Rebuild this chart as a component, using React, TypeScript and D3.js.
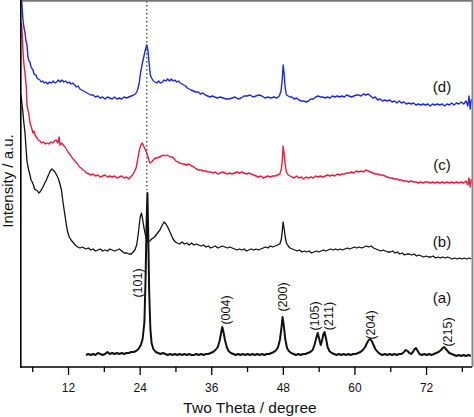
import React, { useRef, useEffect } from "react"
import * as d3 from "d3"

type Pt = [number, number]

// 2θ (degree), intensity (a.u.) — patterns already offset for stacking
const scanA: Pt[] = [
  [15.0, 12], [15.4, 13], [15.8, 12], [16.2, 13], [16.6, 12], [17.0, 14], [17.4, 13], [17.8, 12],
  [18.2, 13], [18.6, 15], [19.0, 13], [19.4, 14], [19.8, 13], [20.2, 14], [20.6, 13], [21.0, 14],
  [21.4, 13], [21.8, 14], [22.2, 14], [22.6, 15], [23.0, 15], [23.4, 16], [23.8, 18], [24.2, 22],
  [24.5, 28], [24.8, 45], [25.0, 90], [25.15, 140], [25.3, 174], [25.45, 130], [25.6, 75], [25.8, 38],
  [26.0, 24], [26.3, 18], [26.7, 15], [27.1, 14], [27.5, 13], [27.9, 14], [28.3, 13], [28.7, 12],
  [29.1, 13], [29.5, 12], [29.9, 13], [30.3, 12], [30.7, 13], [31.1, 12], [31.5, 13], [31.9, 12],
  [32.3, 13], [32.7, 12], [33.1, 12], [33.5, 13], [33.9, 12], [34.3, 13], [34.7, 12], [35.1, 13],
  [35.5, 13], [35.9, 14], [36.3, 15], [36.7, 17], [37.1, 20], [37.4, 26], [37.65, 34], [37.85, 40],
  [38.05, 35], [38.3, 27], [38.6, 20], [38.9, 16], [39.3, 14], [39.7, 13], [40.1, 12], [40.5, 13],
  [40.9, 12], [41.3, 13], [41.7, 12], [42.1, 13], [42.5, 12], [42.9, 13], [43.3, 12], [43.7, 13],
  [44.1, 12], [44.5, 13], [44.9, 12], [45.3, 13], [45.7, 13], [46.1, 14], [46.5, 15], [46.9, 17],
  [47.2, 20], [47.5, 27], [47.75, 38], [47.95, 50], [48.15, 42], [48.4, 28], [48.7, 19], [49.0, 16],
  [49.4, 14], [49.8, 13], [50.2, 12], [50.6, 13], [51.0, 12], [51.4, 13], [51.8, 13], [52.2, 14],
  [52.6, 15], [53.0, 17], [53.3, 22], [53.6, 29], [53.85, 34], [54.1, 28], [54.35, 22], [54.55, 26],
  [54.8, 33], [55.0, 35], [55.25, 28], [55.5, 20], [55.8, 16], [56.2, 14], [56.6, 13], [57.0, 12],
  [57.4, 13], [57.8, 12], [58.2, 13], [58.6, 12], [59.0, 13], [59.4, 12], [59.8, 13], [60.2, 13],
  [60.6, 14], [61.0, 15], [61.4, 17], [61.8, 20], [62.1, 24], [62.4, 27], [62.65, 28], [62.9, 26],
  [63.2, 22], [63.5, 18], [63.9, 15], [64.3, 13], [64.7, 12], [65.1, 13], [65.5, 12], [65.9, 13],
  [66.3, 12], [66.7, 13], [67.1, 12], [67.5, 13], [67.9, 13], [68.3, 15], [68.6, 17], [68.9, 16],
  [69.2, 14], [69.5, 13], [69.8, 15], [70.1, 18], [70.3, 19], [70.6, 16], [70.9, 13], [71.3, 12],
  [71.7, 13], [72.1, 12], [72.5, 13], [72.9, 12], [73.3, 13], [73.7, 14], [74.1, 15], [74.5, 17],
  [74.8, 19], [75.05, 20], [75.3, 18], [75.6, 16], [75.9, 14], [76.3, 13], [76.7, 12], [77.1, 11],
  [77.5, 12], [77.9, 11], [78.3, 12], [78.7, 11], [79.1, 12], [79.5, 11],
]

const scanB: Pt[] = [
  [4.12, 272], [4.3, 262], [4.45, 254], [4.6, 244], [4.79, 234], [4.95, 220], [5.12, 206], [5.29, 200],
  [5.45, 196], [5.63, 192], [5.8, 187], [6.0, 185], [6.2, 182], [6.4, 178], [6.63, 177], [6.9, 176],
  [7.1, 174], [7.3, 175], [7.5, 177], [7.8, 180], [8.1, 184], [8.3, 186], [8.5, 189], [8.8, 193],
  [9.0, 196], [9.3, 198], [9.5, 197], [9.8, 195], [10.1, 192], [10.4, 188], [10.65, 183], [10.9, 177],
  [11.15, 165], [11.4, 155], [11.7, 143], [11.9, 136], [12.2, 130], [12.5, 127], [12.8, 125], [13.2, 122],
  [13.6, 120], [14.0, 119], [14.4, 120], [14.7, 119], [15.0, 118], [15.4, 119], [15.8, 117], [16.2, 118],
  [16.6, 116], [17.0, 117], [17.4, 118], [17.8, 116], [18.2, 117], [18.6, 116], [19.0, 118], [19.4, 117],
  [19.8, 116], [20.2, 117], [20.6, 118], [21.0, 116], [21.4, 114], [21.8, 114], [22.2, 113], [22.6, 113],
  [22.9, 115], [23.2, 117], [23.5, 122], [23.7, 130], [23.9, 140], [24.1, 150], [24.3, 154], [24.5, 148],
  [24.7, 140], [24.9, 134], [25.2, 127], [25.4, 125], [25.7, 126], [26.0, 128], [26.5, 130], [27.0, 134],
  [27.4, 137], [27.8, 142], [28.1, 145], [28.4, 143], [28.7, 140], [29.0, 136], [29.3, 132], [29.6, 128],
  [30.0, 125], [30.3, 124], [30.7, 123], [31.1, 125], [31.5, 123], [31.9, 124], [32.3, 122], [32.7, 124],
  [33.1, 122], [33.5, 123], [33.9, 122], [34.3, 121], [34.7, 122], [35.1, 120], [35.5, 121], [35.9, 119],
  [36.3, 120], [36.7, 121], [37.1, 119], [37.5, 120], [37.9, 121], [38.3, 120], [38.7, 119], [39.1, 120],
  [39.5, 119], [39.9, 118], [40.3, 117], [40.7, 118], [41.1, 117], [41.5, 118], [41.9, 116], [42.3, 117],
  [42.7, 118], [43.1, 117], [43.5, 118], [43.9, 117], [44.3, 118], [44.7, 119], [45.1, 120], [45.5, 119],
  [45.9, 121], [46.3, 120], [46.7, 121], [47.1, 122], [47.5, 123], [47.75, 128], [47.9, 136], [48.05, 145],
  [48.2, 139], [48.4, 130], [48.6, 124], [48.9, 121], [49.2, 119], [49.6, 118], [50.0, 117], [50.4, 116],
  [50.8, 117], [51.2, 115], [51.6, 116], [52.0, 115], [52.4, 116], [52.8, 114], [53.2, 115], [53.6, 116],
  [54.0, 115], [54.4, 116], [54.8, 117], [55.2, 116], [55.6, 117], [56.0, 118], [56.4, 117], [56.8, 118],
  [57.2, 117], [57.6, 118], [58.0, 117], [58.4, 118], [58.8, 119], [59.2, 118], [59.6, 119], [60.0, 120],
  [60.4, 119], [60.8, 120], [61.2, 119], [61.6, 120], [62.0, 121], [62.4, 120], [62.8, 121], [63.2, 119],
  [63.6, 118], [64.0, 117], [64.4, 116], [64.8, 117], [65.2, 116], [65.6, 115], [66.0, 115], [66.4, 116],
  [66.8, 114], [67.2, 115], [67.6, 113], [68.0, 114], [68.4, 112], [68.8, 113], [69.2, 113], [69.6, 112],
  [70.0, 113], [70.4, 111], [70.8, 112], [71.2, 111], [71.6, 110], [72.0, 111], [72.4, 110], [72.8, 110],
  [73.2, 111], [73.6, 109], [74.0, 110], [74.4, 109], [74.8, 110], [75.2, 109], [75.6, 110], [76.0, 109],
  [76.4, 108], [76.8, 109], [77.2, 108], [77.6, 109], [78.0, 108], [78.4, 109], [78.8, 108], [79.2, 109],
  [79.6, 108],
]

const scanC: Pt[] = [
  [4.2, 344], [4.35, 330], [4.5, 310], [4.65, 300], [4.79, 294], [5.0, 280], [5.12, 262], [5.29, 257],
  [5.45, 252], [5.63, 244], [5.85, 240], [6.13, 234], [6.3, 236], [6.47, 232], [6.8, 229], [7.0, 227],
  [7.3, 226], [7.6, 224], [7.9, 225], [8.2, 223], [8.5, 224], [8.8, 223], [9.1, 225], [9.4, 224],
  [9.7, 226], [9.98, 227], [10.3, 224], [10.5, 230], [10.65, 222], [10.9, 224], [11.2, 222], [11.49, 220],
  [11.8, 217], [12.1, 214], [12.4, 212], [12.7, 209], [13.0, 207], [13.3, 205], [13.6, 203], [13.9, 200],
  [14.2, 199], [14.5, 197], [14.8, 196], [15.1, 194], [15.5, 193], [15.85, 192], [16.2, 193], [16.6, 191],
  [17.0, 192], [17.4, 190], [17.8, 191], [18.2, 192], [18.6, 190], [19.0, 191], [19.4, 190], [19.8, 191],
  [20.2, 189], [20.6, 190], [21.0, 191], [21.4, 189], [21.8, 190], [22.2, 188], [22.5, 190], [22.8, 192],
  [23.1, 195], [23.4, 199], [23.6, 205], [23.8, 212], [24.0, 218], [24.2, 222], [24.45, 224], [24.6, 222],
  [24.9, 218], [25.2, 214], [25.5, 208], [25.74, 204], [26.0, 205], [26.3, 207], [26.6, 209], [26.9, 209],
  [27.3, 210], [27.7, 211], [28.0, 212], [28.3, 211], [28.6, 212], [28.9, 211], [29.2, 210], [29.5, 210],
  [29.8, 208], [30.1, 206], [30.4, 205], [30.77, 204], [31.1, 203], [31.5, 203], [31.9, 202], [32.3, 203],
  [32.7, 201], [33.1, 200], [33.5, 198], [33.9, 197], [34.3, 197], [34.7, 196], [35.1, 196], [35.5, 195],
  [35.9, 195], [36.3, 194], [36.7, 195], [37.1, 193], [37.5, 194], [37.9, 195], [38.3, 194], [38.7, 193],
  [39.1, 194], [39.5, 193], [39.9, 194], [40.3, 195], [40.7, 194], [41.1, 195], [41.5, 194], [41.9, 193],
  [42.3, 194], [42.7, 193], [43.1, 192], [43.5, 191], [43.9, 190], [44.3, 191], [44.7, 189], [45.1, 190],
  [45.5, 191], [45.9, 190], [46.3, 191], [46.7, 191], [47.1, 192], [47.5, 193], [47.75, 198], [47.9, 206],
  [48.05, 221], [48.2, 214], [48.4, 202], [48.6, 195], [48.9, 192], [49.2, 191], [49.5, 190], [49.9, 189],
  [50.3, 191], [50.7, 189], [51.1, 190], [51.5, 188], [51.9, 190], [52.3, 189], [52.7, 190], [53.1, 189],
  [53.5, 191], [53.9, 190], [54.3, 191], [54.7, 190], [55.1, 191], [55.5, 192], [55.9, 191], [56.3, 192],
  [56.7, 191], [57.1, 193], [57.5, 192], [57.9, 193], [58.3, 193], [58.7, 194], [59.1, 194], [59.5, 195],
  [59.9, 194], [60.3, 196], [60.7, 195], [61.1, 196], [61.5, 195], [61.9, 197], [62.3, 196], [62.7, 195],
  [63.1, 194], [63.5, 193], [63.9, 193], [64.3, 192], [64.7, 192], [65.1, 191], [65.5, 190], [65.9, 189],
  [66.3, 189], [66.7, 188], [67.1, 188], [67.5, 187], [67.9, 187], [68.3, 186], [68.7, 186], [69.1, 185],
  [69.5, 186], [69.9, 185], [70.3, 185], [70.7, 184], [71.1, 185], [71.5, 184], [71.9, 185], [72.3, 185],
  [72.7, 184], [73.1, 185], [73.5, 184], [73.9, 185], [74.3, 184], [74.7, 185], [75.1, 184], [75.5, 185],
  [75.9, 184], [76.3, 185], [76.7, 184], [77.1, 185], [77.5, 184], [77.9, 185], [78.3, 184], [78.7, 186],
  [79.0, 182], [79.2, 189], [79.4, 180], [79.6, 188],
]

const scanD: Pt[] = [
  [4.12, 380], [4.3, 360], [4.45, 347], [4.6, 340], [4.79, 334], [4.95, 326], [5.12, 322], [5.29, 310],
  [5.45, 306], [5.63, 305], [5.8, 300], [6.0, 298], [6.13, 297], [6.3, 293], [6.5, 292], [6.63, 292],
  [6.8, 289], [7.0, 288], [7.3, 287], [7.5, 285], [7.8, 286], [8.0, 284], [8.3, 285], [8.6, 283],
  [8.9, 285], [9.2, 284], [9.5, 286], [9.8, 284], [10.1, 285], [10.4, 287], [10.7, 285], [11.0, 287],
  [11.3, 285], [11.6, 286], [11.9, 284], [12.2, 285], [12.5, 283], [12.8, 284], [13.1, 282], [13.4, 280],
  [13.7, 281], [14.0, 278], [14.3, 277], [14.6, 276], [14.9, 275], [15.2, 274], [15.5, 273], [15.8, 272],
  [16.2, 272], [16.6, 270], [17.0, 271], [17.4, 269], [17.8, 270], [18.2, 268], [18.6, 270], [19.0, 269],
  [19.4, 268], [19.8, 270], [20.2, 268], [20.6, 269], [21.0, 268], [21.4, 270], [21.8, 269], [22.2, 270],
  [22.6, 271], [23.0, 272], [23.3, 273], [23.6, 276], [23.9, 283], [24.2, 296], [24.5, 305], [24.8, 313],
  [25.0, 318], [25.2, 322], [25.4, 316], [25.6, 303], [25.8, 292], [26.0, 289], [26.3, 286], [26.6, 285],
  [26.9, 284], [27.2, 286], [27.5, 284], [27.8, 285], [28.1, 287], [28.4, 286], [28.7, 288], [29.0, 286],
  [29.3, 288], [29.6, 286], [29.9, 287], [30.2, 285], [30.5, 286], [30.8, 284], [31.1, 283], [31.4, 282],
  [31.7, 281], [32.0, 279], [32.3, 278], [32.6, 277], [33.0, 276], [33.4, 275], [33.8, 275], [34.2, 273],
  [34.6, 274], [35.0, 272], [35.4, 271], [35.8, 270], [36.2, 271], [36.6, 270], [37.0, 269], [37.5, 270],
  [38.0, 269], [38.5, 268], [39.0, 268], [39.5, 269], [40.0, 270], [40.5, 268], [41.0, 269], [41.5, 271],
  [42.0, 271], [42.5, 272], [43.0, 270], [43.5, 271], [44.0, 272], [44.5, 271], [45.0, 269], [45.5, 270],
  [46.0, 269], [46.5, 270], [47.0, 269], [47.4, 271], [47.7, 276], [47.9, 288], [48.05, 302], [48.2, 294],
  [48.4, 279], [48.6, 272], [48.9, 271], [49.2, 270], [49.5, 270], [49.9, 268], [50.3, 269], [50.7, 267],
  [51.1, 266], [51.5, 266], [51.9, 265], [52.3, 266], [52.7, 268], [53.1, 268], [53.5, 270], [53.9, 271],
  [54.3, 270], [54.7, 270], [55.1, 269], [55.5, 270], [55.9, 269], [56.3, 271], [56.7, 270], [57.1, 271],
  [57.5, 270], [57.9, 271], [58.3, 270], [58.7, 272], [59.1, 271], [59.5, 270], [59.9, 271], [60.3, 272],
  [60.7, 272], [61.1, 271], [61.5, 273], [61.9, 272], [62.3, 273], [62.7, 271], [63.1, 269], [63.5, 270],
  [63.9, 267], [64.3, 268], [64.7, 266], [65.1, 267], [65.5, 266], [65.9, 267], [66.3, 265], [66.7, 266],
  [67.1, 264], [67.5, 266], [67.9, 264], [68.3, 265], [68.7, 263], [69.1, 264], [69.5, 263], [69.9, 264],
  [70.3, 262], [70.7, 263], [71.1, 262], [71.5, 263], [71.9, 262], [72.3, 263], [72.7, 261], [73.1, 263],
  [73.5, 262], [73.9, 263], [74.3, 262], [74.7, 263], [75.1, 261], [75.5, 263], [75.9, 262], [76.3, 264],
  [76.7, 262], [77.1, 264], [77.5, 263], [77.9, 265], [78.3, 263], [78.7, 266], [79.0, 261], [79.2, 271],
  [79.4, 258], [79.6, 268],
]

const seriesNames = ["(a)", "(b)", "(c)", "(d)"]
const hklLabels = ["(101)", "(004)", "(200)", "(105)", "(211)", "(204)", "(215)"]
const hklAngles = [25.3, 37.85, 47.95, 53.85, 55.0, 62.65, 75.05]
const majorTicks = [12, 24, 36, 48, 60, 72]
const minorTicks = [6, 18, 30, 42, 54, 66, 78]
const anataseRef = 25.2

const W = 474
const H = 417
const font = "'Liberation Sans', Arial, sans-serif"

const XrdChart = () => {
  const ref = useRef<SVGSVGElement>(null)

  useEffect(() => {
    const svg = d3.select(ref.current)
    svg.selectAll("*").remove()

    const left = 20.3, right = 472, top = 1, bottom = 367

    const x = d3.scaleLinear().domain([4, 79.7]).range([left, right])
    const y = d3.scaleLinear().domain([0, 366]).range([bottom, top])

    svg.append("defs").append("clipPath").attr("id", "plot-clip")
      .append("rect")
      .attr("x", left).attr("y", top)
      .attr("width", right - left).attr("height", bottom - top)

    const line = d3.line<Pt>().x(d => x(d[0])).y(d => y(d[1]))

    const traces = [
      { data: scanA, color: "#111", width: 2 },
      { data: scanB, color: "#111", width: 1.3 },
      { data: scanC, color: "#ec1c3c", width: 1.4 },
      { data: scanD, color: "#1a2be0", width: 1.4 },
    ]

    const plot = svg.append("g").attr("clip-path", "url(#plot-clip)")

    // dotted guide through the (101) reflection
    plot.append("line")
      .attr("x1", x(anataseRef)).attr("x2", x(anataseRef))
      .attr("y1", top).attr("y2", 190)
      .attr("stroke", "#333")
      .attr("stroke-width", 1.2)
      .attr("stroke-dasharray", "1.5 2.5")

    traces.forEach(t => {
      plot.append("path")
        .datum(t.data)
        .attr("fill", "none")
        .attr("stroke", t.color)
        .attr("stroke-width", t.width)
        .attr("stroke-linejoin", "round")
        .attr("d", line)
    })

    // frame
    svg.append("line").attr("x1", left).attr("x2", right).attr("y1", 0.5).attr("y2", 0.5)
      .attr("stroke", "#777").attr("stroke-width", 2.5)
    svg.append("line").attr("x1", right + 0.5).attr("x2", right + 0.5).attr("y1", 0).attr("y2", bottom)
      .attr("stroke", "#888").attr("stroke-width", 2)
    svg.append("line").attr("x1", left + 0.5).attr("x2", left + 0.5).attr("y1", 0).attr("y2", bottom + 0.7)
      .attr("stroke", "#000").attr("stroke-width", 1.6)
    svg.append("line").attr("x1", left).attr("x2", right).attr("y1", bottom).attr("y2", bottom)
      .attr("stroke", "#000").attr("stroke-width", 1.6)

    const gMinor = svg.append("g").attr("transform", `translate(0,${bottom})`)
      .call(d3.axisBottom(x).tickValues(minorTicks).tickSize(5).tickFormat(() => ""))
    gMinor.select(".domain").remove()

    const gMajor = svg.append("g").attr("transform", `translate(0,${bottom})`)
      .call(d3.axisBottom(x).tickValues(majorTicks).tickSize(8).tickPadding(8).tickFormat(d3.format("d")))
    gMajor.select(".domain").remove()
    gMajor.attr("font-size", 12).attr("font-family", font)

    svg.selectAll(".tick line").attr("stroke", "#000").attr("stroke-width", 1.3)
    svg.selectAll(".tick text").attr("fill", "#111")

    svg.append("text")
      .attr("x", 250).attr("y", 413)
      .attr("text-anchor", "middle")
      .attr("font-family", font).attr("font-size", 15.5)
      .attr("fill", "#111")
      .text("Two Theta / degree")

    svg.append("text")
      .attr("transform", "translate(13,181) rotate(-90)")
      .attr("text-anchor", "middle")
      .attr("font-family", font).attr("font-size", 15)
      .attr("fill", "#111")
      .text("Intensity / a.u.")

    // Miller indices of pattern (a), placed just above each reflection
    const hklShift: [number, number][] = [
      [-10, 283], [3, 310], [0, 297], [-3, 316], [4.5, 316], [0.5, 325], [3, 332],
    ]
    hklLabels.forEach((lab, i) => {
      const cx = x(hklAngles[i]) + hklShift[i][0]
      const cy = hklShift[i][1]
      svg.append("text")
        .attr("transform", `translate(${cx},${cy}) rotate(-90)`)
        .attr("text-anchor", "middle")
        .attr("dy", "0.35em")
        .attr("font-family", font).attr("font-size", 12.5)
        .attr("fill", "#111")
        .text(lab)
    })

    const nameLevel = [69, 125, 202, 280]
    seriesNames.forEach((name, i) => {
      svg.append("text")
        .attr("x", 442).attr("y", y(nameLevel[i]))
        .attr("dy", "0.35em")
        .attr("text-anchor", "middle")
        .attr("font-family", font).attr("font-size", 15)
        .attr("fill", "#111")
        .text(name)
    })
  }, [])

  return <svg ref={ref} width={W} height={H} style={{ position: "absolute", left: 0, top: 0, background: "#fff" }} />
}

export default function App() {
  return <XrdChart />
}
